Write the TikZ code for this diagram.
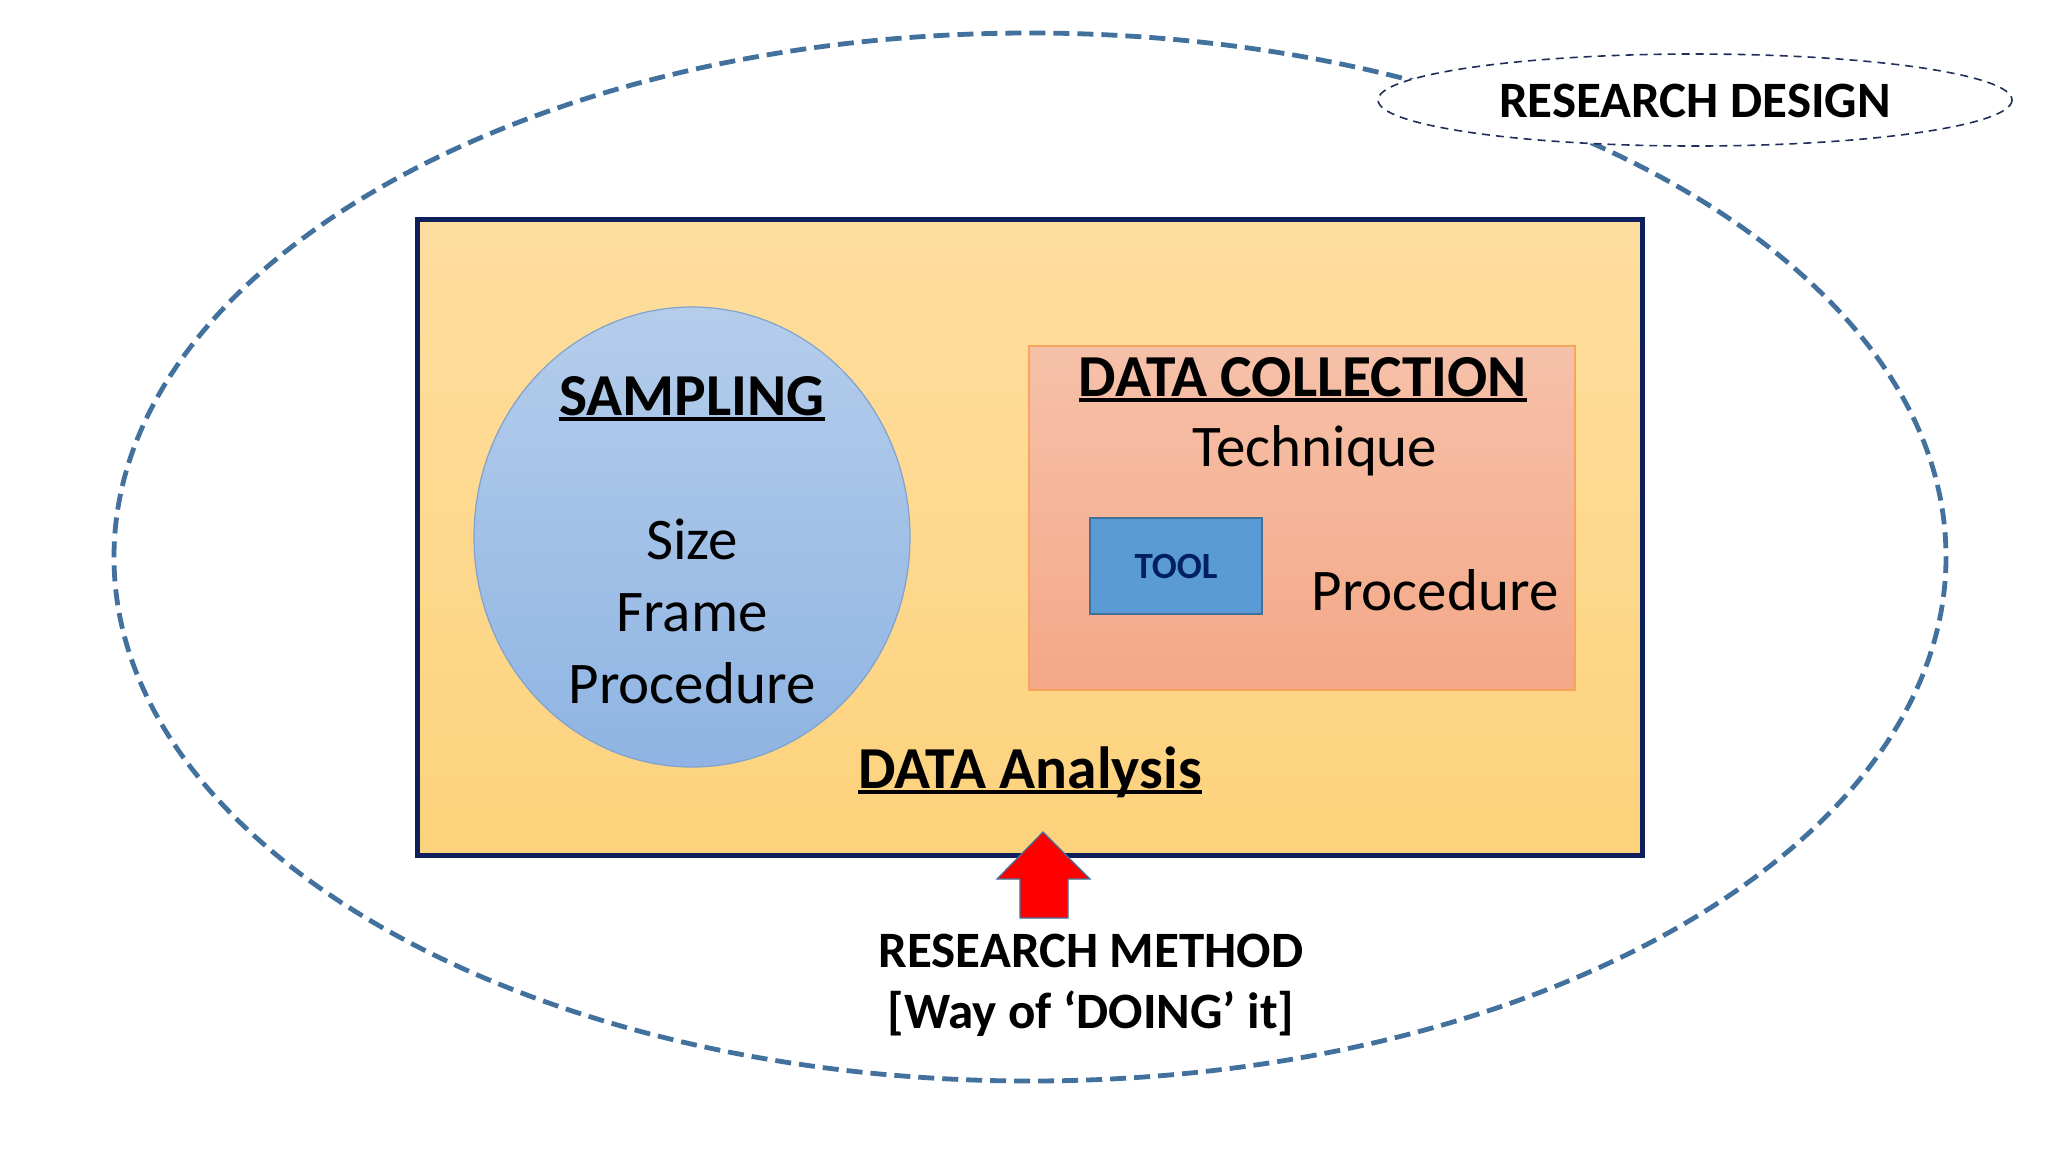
\documentclass[tikz,border=0pt]{standalone}
\usepackage{fontspec}
\setmainfont{Carlito}
\usetikzlibrary{shapes.geometric}
\definecolor{designblue}{HTML}{41719C}
\definecolor{navyline}{HTML}{0F1F5C}
\definecolor{designdash}{HTML}{1F2F5A}
\definecolor{boxtop}{HTML}{FEDE9F}
\definecolor{boxbot}{HTML}{FDD27C}
\definecolor{samptop}{HTML}{B5CDEB}
\definecolor{sampbot}{HTML}{8FB4E3}
\definecolor{sampline}{HTML}{7FA2CE}
\definecolor{colltop}{HTML}{F6C1A9}
\definecolor{collbot}{HTML}{F4A887}
\definecolor{collline}{HTML}{F7A45E}
\definecolor{toolfill}{HTML}{5B9BD5}
\definecolor{tooltext}{HTML}{002060}
\newcommand\myul[1]{\setbox0\hbox{#1}\rlap{\rule[-0.10em]{\wd0}{0.065em}}\box0}
\begin{document}
\begin{tikzpicture}[x=1pt,y=-1pt,
  big/.style={font=\fontsize{59}{72}\selectfont},
  bigbold/.style={font=\fontsize{59.5}{72}\selectfont\bfseries},
  mid/.style={font=\fontsize{51}{62}\selectfont\bfseries},
  small/.style={font=\fontsize{37}{44}\selectfont\bfseries}]
\useasboundingbox[fill=white] (0,0) rectangle (2048,1152);
% outer research design ellipse
\draw[designblue, line width=4.8pt, dash pattern=on 16pt off 8pt] (1030,557) ellipse [x radius=916, y radius=524];
% research design label ellipse
\draw[designdash, fill=white, line width=1.6pt, dash pattern=on 8pt off 6pt] (1695,100) ellipse [x radius=317, y radius=46];
\node[mid] (design) at (1695,101) {RESEARCH DESIGN};
% main box (research method)
\node[draw=navyline, line width=5pt, top color=boxtop, bottom color=boxbot, minimum width=1225pt, minimum height=636pt, inner sep=0pt] (method) at (1029.5,537) {};
% sampling ellipse
\node[ellipse, draw=sampline, line width=1.2pt, top color=samptop, bottom color=sampbot, minimum width=436pt, minimum height=460pt, inner sep=0pt] (sampling) at (692,537) {};
\node[bigbold, anchor=base] (samptitle) at (692,415) {\myul{SAMPLING}};
\node[big, align=center] (samptext) at (692,611) {Size\\Frame\\Procedure};
% data collection box
\node[draw=collline, line width=1.5pt, top color=colltop, bottom color=collbot, minimum width=546pt, minimum height=344pt, inner sep=0pt] (collection) at (1302,518) {};
\node[bigbold, anchor=base] (colltitle) at (1303,396) {\myul{DATA COLLECTION}};
\node[big, anchor=base] (technique) at (1315,466) {Technique};
\node[draw=designblue, line width=1.5pt, fill=toolfill, minimum width=172pt, minimum height=96pt, inner sep=0pt] (tool) at (1176,566) {};
\node[small, text=tooltext] (tooltxt) at (tool) {TOOL};
\node[big, anchor=base] (procedure) at (1435,610) {Procedure};
% data analysis
\node[bigbold, anchor=base] (analysis) at (1030,788) {\myul{DATA Analysis}};
% red arrow
\coordinate (tip) at (1043,832);
\draw[designblue, line width=1.2pt, fill=red] (tip) -- (1090,879) -- (1068,879) -- (1068,918) -- (1020,918) -- (1020,879) -- (997,879) -- cycle;
\node[mid, anchor=base] (rmethod) at (1091,967) {RESEARCH METHOD};
\node[mid, anchor=base] (doing) at (1091,1028) {[Way of ‘DOING’ it]};
\end{tikzpicture}
\end{document}
